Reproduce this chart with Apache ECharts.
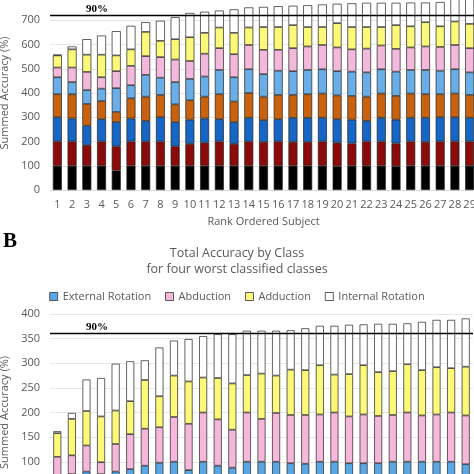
<!DOCTYPE html>
<html><head><meta charset="utf-8">
<script src="https://cdn.jsdelivr.net/npm/echarts@6/dist/echarts.min.js"></script>
<style>html,body{margin:0;padding:0;background:#fff}#c{width:474px;height:474px}</style>
</head><body><div id="c"></div>
<script>
const subjects = Array.from({length:29},(_,i)=>String(i+1));
// Top chart: cumulative tops, per segment level
const topCum1 = [100,100,100,100,80,100,100,100,100,100,100,100,100,100,100,100,100,100,100,98,100,100,100,98,100,100,100,100,100];
const topCum2 = [200,200,185,200,180,200,200,200,180,190,195,200,190,200,198,200,198,198,200,195,192,200,200,192,200,198,200,200,200];
const topCum3 = [300,295,265,292,280,295,285,300,280,290,295,292,280,298,288,292,298,298,298,292,290,285,298,290,298,298,300,300,298];
const topCum4 = [395,395,355,367,322,378,385,392,353,370,385,395,365,400,385,392,392,395,398,390,388,385,398,388,398,395,395,398,392];
const topCum5 = [465,445,412,418,420,432,475,463,445,458,468,495,465,498,478,492,490,495,498,490,488,485,498,488,495,495,492,498,485];
const topCum6 = [505,505,487,465,490,512,552,548,538,532,562,585,560,598,578,578,585,592,598,588,580,583,596,582,588,592,590,598,585];
const topCum7 = [555,580,558,558,555,580,652,615,622,630,648,670,648,670,672,672,680,672,672,688,672,672,672,680,675,692,675,695,685];
const topCum8 = [558,592,622,637,655,677,692,698,713,730,735,740,745,753,755,758,760,762,765,768,770,772,772,772,773,773,775,790,790];
const topNames = ['S1','S2','S3','S4','S5','S6','S7','S8'];
const topColors = ['#000000','#8b0a0a','#1666c5','#c8620e','#6aaee8','#f3b9dc','#fbf87a','#ffffff'];
// Bottom chart cumulative tops
const botClasses = ['External Rotation','Abduction','Adduction','Internal Rotation'];
const botCum1 = [70,75,80,75,80,85,92,98,100,83,100,92,88,100,100,100,97,96,100,100,97,97,97,100,100,100,100,100,95];
const botCum2 = [110,113,133,99,136,156,167,170,191,177,200,186,165,200,187,199,195,195,196,200,192,196,193,195,200,194,196,200,194];
const botCum3 = [158,187,203,192,204,223,266,233,275,263,271,270,259,276,279,275,287,286,296,277,278,296,282,284,298,286,292,290,293];
const botCum4 = [162,199,267,270,299,304,306,332,346,349,355,359,359,366,366,366,367,371,376,376,378,379,380,380,381,384,388,388,391];
const botColors = ['#5aa7e6','#f5b8da','#fbf87a','#ffffff'];

function diffs(levels){return levels.map((arr,k)=>arr.map((v,i)=>k===0?v:v-levels[k-1][i]));}
const topSeg = diffs([topCum1,topCum2,topCum3,topCum4,topCum5,topCum6,topCum7,topCum8]);
const botSeg = diffs([botCum1,botCum2,botCum3,botCum4]);

const gray='#595959';
const series=[];
topSeg.forEach((d,k)=>series.push({name:topNames[k],type:'bar',stack:'t',xAxisIndex:0,yAxisIndex:0,data:d,barWidth:9,
  itemStyle:{color:topColors[k],borderColor:'#222',borderWidth:0.7},
  markLine:k===0?{symbol:'none',silent:true,lineStyle:{color:'#000',width:1.3,type:'solid'},
    label:{show:true,position:'insideStartTop',formatter:'90%',color:'#000',fontFamily:'Liberation Serif',fontWeight:'bold',fontSize:11,distance:[36,1]},
    data:[{yAxis:720}]}:undefined}));
botSeg.forEach((d,k)=>series.push({name:botClasses[k],type:'bar',stack:'b',xAxisIndex:1,yAxisIndex:1,data:d,barWidth:8,
  itemStyle:{color:botColors[k],borderColor:'#222',borderWidth:0.7},
  markLine:k===0?{symbol:'none',silent:true,lineStyle:{color:'#000',width:1.3,type:'solid'},
    label:{show:true,position:'insideStartTop',formatter:'90%',color:'#000',fontFamily:'Liberation Serif',fontWeight:'bold',fontSize:11,distance:[36,1]},
    data:[{yAxis:360}]}:undefined}));

const axLbl={color:gray,fontSize:11,fontFamily:'Open Sans'};
const chart=echarts.init(document.getElementById('c'));
chart.setOption({
  animation:false,
  graphic:[
    {type:'text',left:3,top:231,style:{text:'B',font:'bold 21px "Liberation Serif"',fill:'#000'}},
    {type:'text',left:'center',top:245,style:{text:'Total Accuracy by Class\nfor four worst classified classes',font:'12.5px "Open Sans"',fill:gray,textAlign:'center',lineHeight:16}}
  ],
  legend:{data:botClasses,top:286,left:'center',icon:'rect',itemWidth:8,itemHeight:8,itemGap:14,
    textStyle:{color:gray,fontSize:11,fontFamily:'Open Sans'},itemStyle:{borderColor:'#333',borderWidth:0.8}},
  grid:[
    {left:50,right:-3,top:-4,height:194,containLabel:false,outerBoundsMode:'none'},
    {left:50,right:1,top:314,height:197,containLabel:false,outerBoundsMode:'none'}
  ],
  xAxis:[
    {type:'category',gridIndex:0,data:subjects,axisTick:{show:false},axisLine:{lineStyle:{color:'#d9d9d9'}},
     axisLabel:{...axLbl,margin:9,interval:0},name:'Rank Ordered Subject',nameLocation:'middle',nameGap:26,nameTextStyle:{color:gray,fontSize:11,fontFamily:'Open Sans'}},
    {type:'category',gridIndex:1,data:subjects,axisTick:{show:false},axisLine:{lineStyle:{color:'#d9d9d9'}},axisLabel:{show:false}}
  ],
  yAxis:[
    {type:'value',gridIndex:0,min:0,max:800,interval:100,splitLine:{lineStyle:{color:'#e6e6e6'}},
     axisLabel:{...axLbl,margin:10,formatter:v=>v>=800?'':String(v)},name:'Summed Accuracy (%)',nameLocation:'middle',nameGap:34,nameTextStyle:{color:gray,fontSize:11,fontFamily:'Open Sans'}},
    {type:'value',gridIndex:1,min:0,max:400,interval:50,splitLine:{lineStyle:{color:'#e6e6e6'}},
     axisLabel:{...axLbl,margin:10},name:'Summed Accuracy (%)',nameLocation:'middle',nameGap:34,nameTextStyle:{color:gray,fontSize:11,fontFamily:'Open Sans'}}
  ],
  series
});
</script></body></html>
